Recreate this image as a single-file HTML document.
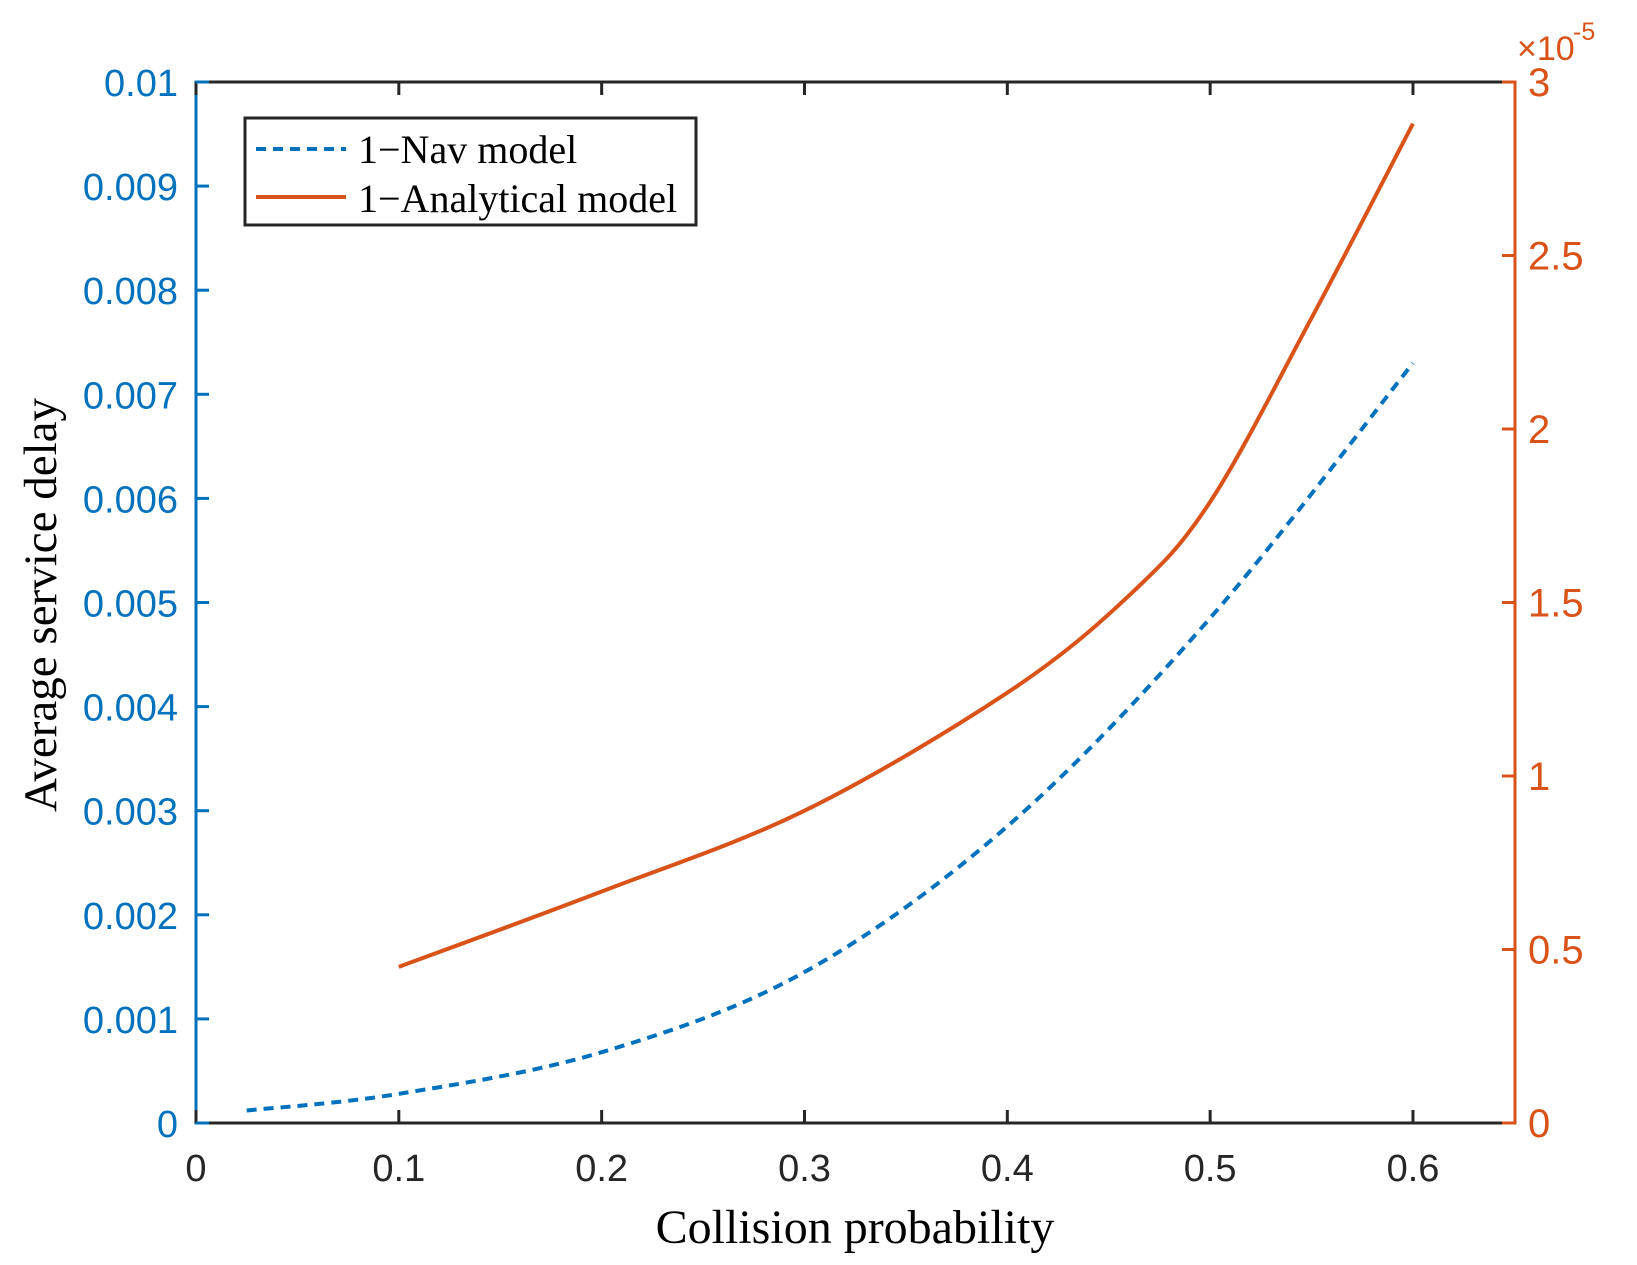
<!DOCTYPE html>
<html><head><meta charset="utf-8"><style>
html,body{margin:0;padding:0;background:#fff}
svg{display:block}
text{font-family:"Liberation Sans",Arial,sans-serif}
.t{font-family:"Liberation Serif","Times New Roman",serif}
</style></head><body>
<svg id="s" width="1637" height="1265" viewBox="0 0 1637 1265" xmlns="http://www.w3.org/2000/svg">
<g id="g"></g>
</svg>
<script>
const NS="http://www.w3.org/2000/svg";
const g=document.getElementById('g');
function el(n,a,t){const e=document.createElementNS(NS,n);for(const k in a)e.setAttribute(k,a[k]);if(t!=null)e.textContent=t;g.appendChild(e);return e;}
const L=196,R=1515,T=82,B=1123;
const X=v=>L+v*2028.3;
const YL=v=>B-v/0.01*(B-T);
const YR=v=>B-v/3*(B-T);
const BL="#0072BD",OR="#D95319",K="#262626";
function cr(pts){let d="M"+pts[0][0]+","+pts[0][1];
 for(let i=0;i<pts.length-1;i++){const p0=pts[Math.max(0,i-1)],p1=pts[i],p2=pts[i+1],p3=pts[Math.min(pts.length-1,i+2)];
 const c1=[p1[0]+(p2[0]-p0[0])/6,p1[1]+(p2[1]-p0[1])/6],c2=[p2[0]-(p3[0]-p1[0])/6,p2[1]-(p3[1]-p1[1])/6];
 d+=" C"+c1+" "+c2+" "+p2;}return d;}
const blue=[[0.025,0.00012],[0.1,0.00028],[0.2,0.00068],[0.3,0.00145],[0.4,0.00285],[0.5,0.00485],[0.6,0.0073]].map(p=>[X(p[0]),YL(p[1])]);
const orn=[[0.1,0.45],[0.2,0.667],[0.3,0.90],[0.4,1.24],[0.46,1.52],[0.5,1.79],[0.55,2.32],[0.6,2.88]].map(p=>[X(p[0]),YR(p[1])]);
el('path',{d:cr(blue),fill:'none',stroke:BL,'stroke-width':4,'stroke-dasharray':'10,7'});
el('path',{d:cr(orn),fill:'none',stroke:OR,'stroke-width':4});
el('line',{x1:L,y1:T,x2:R,y2:T,stroke:K,'stroke-width':3});
el('line',{x1:L,y1:B,x2:R,y2:B,stroke:K,'stroke-width':3});
el('line',{x1:L,y1:T-1.5,x2:L,y2:B+1.5,stroke:BL,'stroke-width':3});
el('line',{x1:R,y1:T-1.5,x2:R,y2:B+1.5,stroke:OR,'stroke-width':3});
for(let i=0;i<=6;i++){const x=X(i/10);
 el('line',{x1:x,y1:B,x2:x,y2:B-13,stroke:K,'stroke-width':3});
 el('line',{x1:x,y1:T,x2:x,y2:T+13,stroke:K,'stroke-width':3});
 el('text',{x:x,y:1181,'text-anchor':'middle','font-size':38,fill:K},i==0?'0':'0.'+i);}
for(let i=0;i<=10;i++){const y=YL(i/1000);
 el('line',{x1:L,y1:y,x2:L+13,y2:y,stroke:BL,'stroke-width':3});
 el('text',{x:178,y:y+14,'text-anchor':'end','font-size':38,fill:BL},i==0?'0':(i==10?'0.01':'0.00'+i));}
for(let i=0;i<=6;i++){const y=YR(i/2);
 el('line',{x1:R,y1:y,x2:R-13,y2:y,stroke:OR,'stroke-width':3});
 el('text',{x:1528,y:y+14,'font-size':40,fill:OR},(i/2).toString());}
el('text',{x:1517,y:60,'font-size':34,fill:OR},'×10');
el('text',{x:1573,y:40,'font-size':25,fill:OR},'-5');
el('text',{x:855,y:1243,'text-anchor':'middle','font-size':48,fill:'#000',class:'t'},'Collision probability');
el('text',{x:0,y:0,'text-anchor':'middle','font-size':47,fill:'#000',class:'t',transform:'translate(56,605) rotate(-90)'},'Average service delay');
el('rect',{x:245,y:118,width:451,height:107,fill:'#fff',stroke:K,'stroke-width':3});
el('line',{x1:256,y1:149,x2:346,y2:149,stroke:BL,'stroke-width':4,'stroke-dasharray':'10,7'});
el('line',{x1:256,y1:197,x2:346,y2:197,stroke:OR,'stroke-width':4});
el('text',{x:358,y:163,'font-size':40,fill:'#000',class:'t'},'1−Nav model');
el('text',{x:358,y:212,'font-size':40,fill:'#000',class:'t'},'1−Analytical model');
</script>
</body></html>
